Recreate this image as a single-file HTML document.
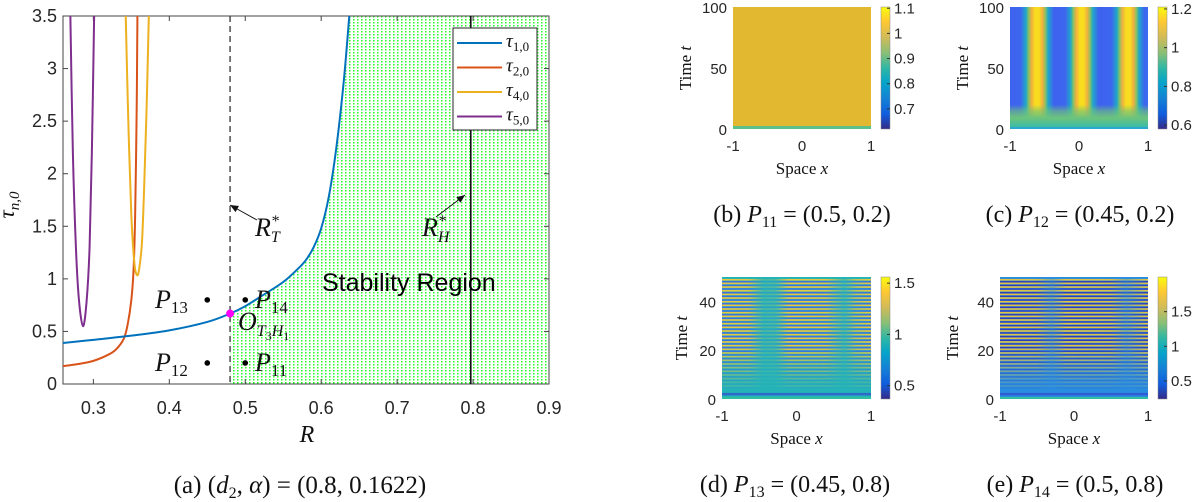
<!DOCTYPE html>
<html><head><meta charset="utf-8">
<style>
html,body{margin:0;padding:0;background:#fff;}
svg{display:block;}
.tk{font-family:"Liberation Sans",sans-serif;font-size:18px;fill:#262626;}
.tks{font-family:"Liberation Sans",sans-serif;font-size:15px;fill:#262626;}
.sf{font-family:"Liberation Serif",serif;fill:#111;}
</style></head>
<body>
<svg id="fig" width="1200" height="502" viewBox="0 0 1200 502" xmlns="http://www.w3.org/2000/svg">
<defs>
<pattern id="dots" width="4" height="3" patternUnits="userSpaceOnUse">
<rect x="1" y="1" width="1.5" height="1.5" fill="#22ff22"/>
</pattern>
<linearGradient id="parula" x1="0" y1="1" x2="0" y2="0">
<stop offset="0" stop-color="#352a87"/><stop offset="0.12" stop-color="#0f5cdd"/>
<stop offset="0.25" stop-color="#1481d6"/><stop offset="0.38" stop-color="#06a4ca"/>
<stop offset="0.5" stop-color="#2eb7a4"/><stop offset="0.62" stop-color="#87bf77"/>
<stop offset="0.75" stop-color="#d1bb59"/><stop offset="0.88" stop-color="#fec832"/>
<stop offset="1" stop-color="#f9fb0e"/>
</linearGradient>
<linearGradient id="cstripe" x1="0" y1="0" x2="1" y2="0"></linearGradient>
<linearGradient id="cbottom" x1="0" y1="1" x2="0" y2="0">
<stop offset="0" stop-color="#30b8b0" stop-opacity="1"/>
<stop offset="0.45" stop-color="#6cc47c" stop-opacity="1"/>
<stop offset="0.75" stop-color="#70c478" stop-opacity="0.6"/>
<stop offset="1" stop-color="#70c478" stop-opacity="0"/>
</linearGradient>
<linearGradient id="mgD" x1="0" y1="0" x2="1" y2="0">
<stop offset="0" stop-color="#fff"/><stop offset="0.18" stop-color="#eee"/>
<stop offset="0.28" stop-color="#333"/><stop offset="0.36" stop-color="#444"/>
<stop offset="0.45" stop-color="#fff"/><stop offset="0.7" stop-color="#eee"/>
<stop offset="0.82" stop-color="#444"/><stop offset="0.9" stop-color="#ccc"/>
<stop offset="1" stop-color="#fff"/>
</linearGradient>
<linearGradient id="mgE" x1="0" y1="0" x2="1" y2="0">
<stop offset="0" stop-color="#fff"/><stop offset="0.25" stop-color="#eee"/>
<stop offset="0.35" stop-color="#888"/><stop offset="0.45" stop-color="#fff"/>
<stop offset="0.75" stop-color="#eee"/><stop offset="0.85" stop-color="#888"/>
<stop offset="1" stop-color="#fff"/>
</linearGradient>
<clipPath id="mainclip"><rect x="63" y="16" width="486" height="368"/></clipPath>
</defs>
<g id="main"></g>
<g id="heat"></g>
</svg>
<script>
const NS="http://www.w3.org/2000/svg";
// ---- main chart data ----
const xTicks=[0.3,0.4,0.5,0.6,0.7,0.8,0.9];
const yTicks=[0,0.5,1,1.5,2,2.5,3,3.5];
const yTickLabels=["0","0.5","1","1.5","2","2.5","3","3.5"];
const tau1R=[0.26,0.30,0.35,0.40,0.45,0.48,0.50,0.52,0.55,0.57,0.58,0.59,0.60,0.61,0.62,0.63,0.637];
const tau1V=[0.39,0.42,0.46,0.51,0.59,0.67,0.74,0.83,0.97,1.10,1.18,1.30,1.48,1.78,2.25,2.9,3.5];
const tau2R=[0.26,0.28,0.30,0.32,0.33,0.34,0.345,0.35,0.353,0.355,0.357,0.358];
const tau2V=[0.17,0.19,0.22,0.28,0.33,0.43,0.56,0.80,1.1,1.6,2.6,3.5];
const tau4R=[0.3426,0.346,0.35,0.354,0.357,0.36,0.364,0.367,0.370,0.373];
const tau4V=[3.5,2.5,1.6,1.15,1.04,1.08,1.35,1.9,2.6,3.5];
const tau5R=[0.2697,0.273,0.277,0.281,0.2863,0.291,0.295,0.298,0.301];
const tau5V=[3.5,2.2,1.3,0.8,0.55,0.78,1.3,2.2,3.5];
const pointsR=[0.5,0.45,0.45,0.5];
const pointsT=[0.2,0.2,0.8,0.8];
const RT=0.48, RH=0.797, OR=0.48, OT=0.67;

const X0=63,X1=549,Y0=384,Y1=16, xmin=0.26,xmax=0.9,ymin=0,ymax=3.5;
const xs=v=>X0+(v-xmin)/(xmax-xmin)*(X1-X0);
const ys=v=>Y0-(v-ymin)/(ymax-ymin)*(Y0-Y1);
function mk(tag,attrs,parent,txt){const e=document.createElementNS(NS,tag);for(const k in attrs)e.setAttribute(k,attrs[k]);if(txt!==undefined)e.textContent=txt;parent.appendChild(e);return e;}
function smooth(pts){
  let d='M'+pts[0][0]+','+pts[0][1];
  for(let i=0;i<pts.length-1;i++){
    const p0=pts[Math.max(0,i-1)],p1=pts[i],p2=pts[i+1],p3=pts[Math.min(pts.length-1,i+2)];
    const c1=[p1[0]+(p2[0]-p0[0])/6,p1[1]+(p2[1]-p0[1])/6];
    const c2=[p2[0]-(p3[0]-p1[0])/6,p2[1]-(p3[1]-p1[1])/6];
    d+=' C'+c1.join(',')+' '+c2.join(',')+' '+p2.join(',');
  }
  return d;
}
const main=document.getElementById('main');

// stability region
let poly=[[xs(RT),ys(OT)]];
for(let i=0;i<tau1R.length;i++){if(tau1R[i]>RT)poly.push([xs(tau1R[i]),ys(tau1V[i])]);}
let regD=smooth(poly);
regD='M'+xs(RT)+','+ys(0)+' L'+regD.slice(1)+' L'+xs(xmax)+','+ys(ymax)+' L'+xs(xmax)+','+ys(0)+' Z';
let reg=mk('path',{d:regD,fill:'url(#dots)'},main);



// axes box
let ax=mk('rect',{x:X0,y:Y1,width:X1-X0,height:Y0-Y1,fill:'none',stroke:'#444','stroke-width':1},main);


xTicks.forEach(v=>{
  const x=xs(v);
  mk('line',{x1:x,y1:Y0,x2:x,y2:Y0-5,stroke:'#444'},main);
  mk('line',{x1:x,y1:Y1,x2:x,y2:Y1+5,stroke:'#444'},main);
  let t=mk('text',{x:x,y:Y0+30,'text-anchor':'middle',class:'tk'},main,String(v));
  
  
});
yTicks.forEach((v,i)=>{
  const y=ys(v);
  mk('line',{x1:X0,y1:y,x2:X0+5,y2:y,stroke:'#444'},main);
  mk('line',{x1:X1,y1:y,x2:X1-5,y2:y,stroke:'#444'},main);
  let t=mk('text',{x:X0-6,y:y+6,'text-anchor':'end',class:'tk'},main,yTickLabels[i]);
  
  
});
let xl=mk('text',{x:307,y:442,'text-anchor':'middle',class:'sf','font-size':24,'font-style':'italic',fill:'#333'},main,'R');


let yl=mk('text',{x:0,y:0,transform:'translate(14,205) rotate(-90)','text-anchor':'middle',class:'sf','font-size':23,'font-style':'italic'},main);
yl.innerHTML='τ<tspan font-size="15" dy="5">n,0</tspan>';



// vertical lines
let rtl=mk('line',{x1:xs(RT),y1:Y1,x2:xs(RT),y2:Y0,stroke:'#333','stroke-width':1.3,'stroke-dasharray':'6,4'},main);


let rhl=mk('line',{x1:xs(RH),y1:Y1,x2:xs(RH),y2:Y0,stroke:'#111','stroke-width':1.6},main);



// curves
const g=mk('g',{'clip-path':'url(#mainclip)'},main);
function curve(R,V,col,name){
  let p=mk('path',{d:smooth(R.map((r,i)=>[xs(r),ys(V[i])])),fill:'none',stroke:col,'stroke-width':2,'stroke-linejoin':'round'},g);
  
  
}
curve(tau2R,tau2V,'#d95319','tau-2-0-curve');
curve(tau4R,tau4V,'#edb120','tau-4-0-curve');
curve(tau5R,tau5V,'#7e2f8e','tau-5-0-curve');
curve(tau1R,tau1V,'#0072bd','tau-1-0-curve');

// points
pointsR.forEach((r,i)=>{
  let c=mk('circle',{cx:xs(r),cy:ys(pointsT[i]),r:2.8,fill:'#000'},main);
  
  
});
let od=mk('circle',{cx:xs(OR),cy:ys(OT),r:4,fill:'#ff00ff'},main);



// labels
function lab(x,y,html,name,fs){let t=mk('text',{x:x,y:y,class:'sf','font-size':fs||26,'font-style':'italic'},main);t.innerHTML=html;
 
 }
lab(155,308,'P<tspan font-size="17" font-style="normal" dy="5">13</tspan>','p13-label');
lab(255,308,'P<tspan font-size="17" font-style="normal" dy="5">14</tspan>','p14-label');
lab(155,371,'P<tspan font-size="17" font-style="normal" dy="5">12</tspan>','p12-label');
lab(255,371,'P<tspan font-size="17" font-style="normal" dy="5">11</tspan>','p11-label');
lab(238,330,'O<tspan font-size="16" dy="6">T</tspan><tspan font-size="12" font-style="normal" dy="4">3</tspan><tspan font-size="16" dy="-4">H</tspan><tspan font-size="12" font-style="normal" dy="4">1</tspan>','o-t3h1-label');
lab(255,236,'R<tspan font-size="16" dy="-10">*</tspan><tspan font-size="16" dx="-8" dy="16">T</tspan>','rt-star-label');
lab(422,236,'R<tspan font-size="16" dy="-10">*</tspan><tspan font-size="16" dx="-8" dy="16">H</tspan>','rh-star-label');
// arrows
function arrow(x1,y1,x2,y2,name){
  let a=mk('g',{},main);
  
  
  mk('line',{x1:x1,y1:y1,x2:x2,y2:y2,stroke:'#111','stroke-width':1},a);
  const ang=Math.atan2(y2-y1,x2-x1),L=9,w=0.4;
  const p=[[x2,y2],[x2-L*Math.cos(ang-w),y2-L*Math.sin(ang-w)],[x2-L*Math.cos(ang+w),y2-L*Math.sin(ang+w)]];
  mk('polygon',{points:p.map(q=>q.join(',')).join(' '),fill:'#111'},a);
}
arrow(257,220,230,205,'rt-star-arrow');
arrow(436,217,465,195,'rh-star-arrow');
let sr=mk('text',{x:322,y:291,'font-family':'Liberation Sans, sans-serif','font-size':25,fill:'#000'},main,'Stability Region');



// legend
const legNames=['1,0','2,0','4,0','5,0'];
const legCols=['#0072bd','#d95319','#edb120','#7e2f8e'];
let lg=mk('g',{},main);


mk('rect',{x:453,y:28,width:84,height:102,fill:'#fff',stroke:'#262626'},lg);
legNames.forEach((n,i)=>{
  const y=43+i*24.5;
  mk('line',{x1:457,y1:y,x2:502,y2:y,stroke:legCols[i],'stroke-width':2},lg);
  let t=mk('text',{x:506,y:y+4,class:'sf','font-size':19,'font-style':'italic'},lg);
  t.innerHTML='τ<tspan font-size="13" font-style="normal" dy="4">'+n+'</tspan>';
  
  
});
let capA=mk('text',{x:300,y:493,'text-anchor':'middle',class:'sf','font-size':25},main);
capA.innerHTML='(a)  (<tspan font-style="italic">d</tspan><tspan font-size="16" dy="5">2</tspan><tspan dy="-5">, </tspan><tspan font-style="italic">α</tspan>) = (0.8, 0.1622)';



// ---- heatmaps ----
const cYellow=[0.196,0.52,0.855];
(function(){
  const gr=document.getElementById('cstripe');
  const prof=[[-0.2,'#3d62ef'],[-0.12,'#3d66ef'],[-0.08,'#1fa8c8'],[-0.06,'#8cc060'],[-0.04,'#f0b040'],[-0.015,'#f8dc20'],[0.015,'#f8dc20'],[0.04,'#f0b040'],[0.06,'#8cc060'],[0.08,'#1fa8c8'],[0.12,'#3d66ef']];
  let stops=[[0,'#3d62ef']];
  cYellow.forEach(c=>prof.forEach(p=>{const o=c+p[0];if(o>0&&o<1)stops.push([o,p[1]]);}));
  stops.push([1,'#3d6aef']);
  stops.sort((a,b)=>a[0]-b[0]);
  stops.forEach(s=>mk('stop',{offset:s[0],'stop-color':s[1]},gr));
})();
const heat=document.getElementById('heat');
const panelXT=['-1','0','1'];
const bYT=[0,50,100], dYT=[0,20,40];
const bCB=[0.7,0.8,0.9,1,1.1], cCB=[0.6,0.8,1,1.2], dCB=[0.5,1,1.5], eCB=[0.5,1,1.5];
const bRange=[0.62,1.105], cRange=[0.58,1.21], dRange=[0.37,1.56], eRange=[0.24,2.0];
const stripeCount=30;
const panels=[
 {id:'b',x0:733,x1:871,y0:7,y1:129,tmax:100,yt:bYT,cb:bCB,rng:bRange,cbx:881,cap:'(b)  <tspan font-style="italic">P</tspan><tspan font-size="16" dy="5">11</tspan><tspan dy="-5"> = (0.5, 0.2)</tspan>',capx:802,capy:222},
 {id:'c',x0:1010,x1:1148,y0:7,y1:129,tmax:100,yt:bYT,cb:cCB,rng:cRange,cbx:1158,cap:'(c)  <tspan font-style="italic">P</tspan><tspan font-size="16" dy="5">12</tspan><tspan dy="-5"> = (0.45, 0.2)</tspan>',capx:1080,capy:222},
 {id:'d',x0:722,x1:871,y0:277,y1:399,tmax:50,yt:dYT,cb:dCB,rng:dRange,cbx:881,cap:'(d)  <tspan font-style="italic">P</tspan><tspan font-size="16" dy="5">13</tspan><tspan dy="-5"> = (0.45, 0.8)</tspan>',capx:795,capy:492},
 {id:'e',x0:1000,x1:1148,y0:277,y1:399,tmax:50,yt:dYT,cb:eCB,rng:eRange,cbx:1158,cap:'(e)  <tspan font-style="italic">P</tspan><tspan font-size="16" dy="5">14</tspan><tspan dy="-5"> = (0.5, 0.8)</tspan>',capx:1075,capy:492}
];
const defs=document.querySelector('defs');
panels.forEach(p=>{
  const G=mk('g',{},heat);
  
  
  const W=p.x1-p.x0,H=p.y1-p.y0;
  const ty=t=>p.y1-t/p.tmax*H;
  if(p.id==='b'){
    mk('rect',{x:p.x0,y:p.y0,width:W,height:H,fill:'#e2b830'},G);
    mk('rect',{x:p.x0,y:p.y1-3,width:W,height:3,fill:'#5cc08a'},G);
  } else if(p.id==='c'){
    mk('rect',{x:p.x0,y:p.y0,width:W,height:H,fill:'url(#cstripe)'},G);
    mk('rect',{x:p.x0,y:ty(20),width:W,height:ty(0)-ty(20),fill:'url(#cbottom)'},G);
    mk('rect',{x:p.x0,y:p.y1-2,width:W,height:2,fill:'#2aa8d0'},G);
  } else {
    const bg=p.id==='d'?'#24b4b8':'#2a8ee0';
    mk('rect',{x:p.x0,y:p.y0,width:W,height:H,fill:bg},G);
    const m=mk('mask',{id:'mask'+p.id},defs);
    mk('rect',{x:p.x0,y:p.y0,width:W,height:H,fill:p.id==='d'?'url(#mgD)':'url(#mgE)'},m);
    const sg=mk('g',{mask:'url(#mask'+p.id+')'},G);
    const hiC=p.id==='d'?'#f0c63a':'#e8c43a', loC=p.id==='d'?'#3a6ee8':'#2c3bbf';
    for(let k=0;k<stripeCount;k++){
      const t=p.tmax-0.8-k*(p.tmax-5)/stripeCount;
      const yy=ty(t);
      const op=Math.max(0.15,Math.min(1,(t-4)/18));
      mk('rect',{x:p.x0,y:yy,width:W,height:1.6,fill:hiC,opacity:op},sg);
      mk('rect',{x:p.x0,y:yy+2.1,width:W,height:1.4,fill:loC,opacity:op},sg);
    }
    mk('rect',{x:p.x0,y:ty(2.5),width:W,height:2.5,fill:'#3048d0',opacity:0.7},G);
    mk('rect',{x:p.x0,y:p.y1-2,width:W,height:2,fill:'#30c0a0'},G);
  }
  mk('rect',{x:p.cbx,y:p.y0,width:9,height:H,fill:'url(#parula)',stroke:'#888','stroke-width':0.5},G);
  p.cb.forEach(v=>{
    const y=p.y1-(v-p.rng[0])/(p.rng[1]-p.rng[0])*H;
    mk('line',{x1:p.cbx+9,y1:y,x2:p.cbx+6,y2:y,stroke:'#333'},G);
    let t=mk('text',{x:p.cbx+13,y:y+5,class:'tks'},G,String(v));
    
    
  });
  p.yt.forEach(v=>{
    let t=mk('text',{x:p.x0-6,y:ty(v)+6,'text-anchor':'end',class:'tks'},G,String(v));
    
    
  });
  panelXT.forEach((s,i)=>{
    let t=mk('text',{x:p.x0+i*W/2,y:p.y1+22,'text-anchor':'middle',class:'tks'},G,s);
    
    
  });
  let xt=mk('text',{x:p.x0+W/2,y:p.y1+45,'text-anchor':'middle',class:'sf','font-size':17,fill:'#333'},G);
  xt.innerHTML='Space <tspan font-style="italic">x</tspan>';
  
  
  let yt=mk('text',{x:0,y:0,transform:'translate('+(p.x0-(p.id==='d'?35:42))+','+(p.y0+H/2)+') rotate(-90)','text-anchor':'middle',class:'sf','font-size':17,fill:'#333'},G);
  yt.innerHTML='Time <tspan font-style="italic">t</tspan>';
  
  
  let cp=mk('text',{x:p.capx,y:p.capy,'text-anchor':'middle',class:'sf','font-size':24},G);
  cp.innerHTML=p.cap;
  
  
});
</script>
</body></html>
